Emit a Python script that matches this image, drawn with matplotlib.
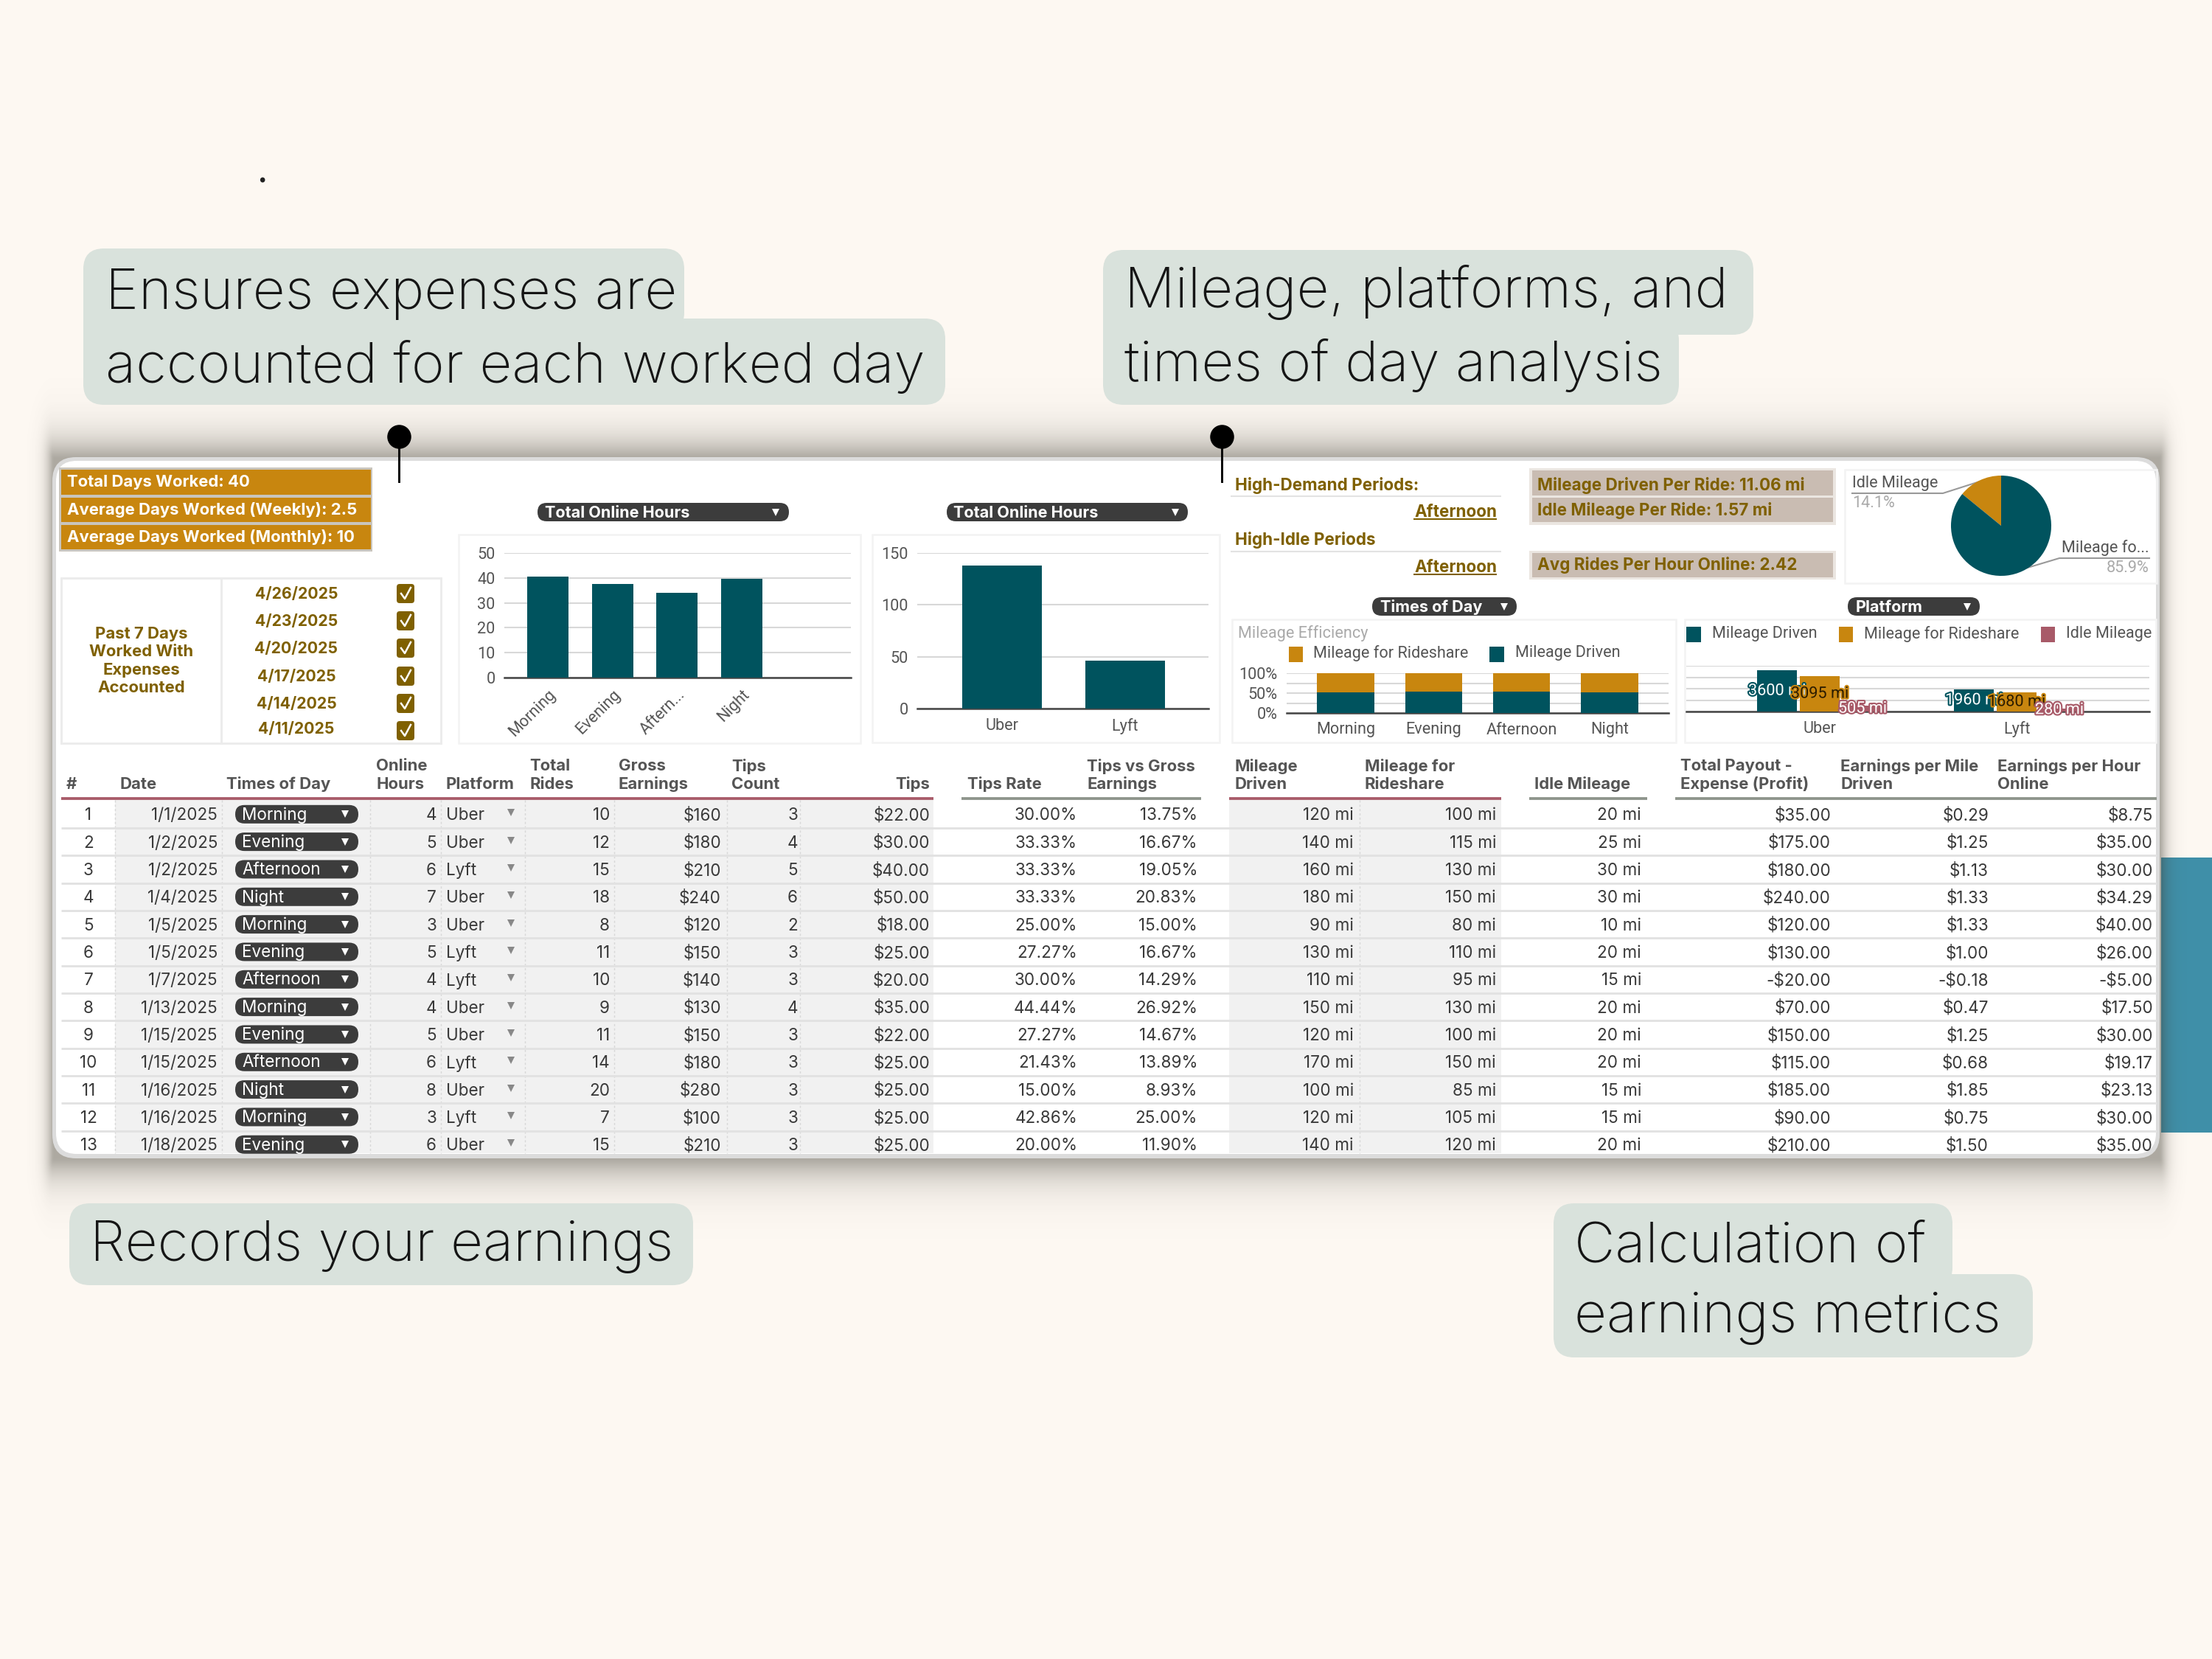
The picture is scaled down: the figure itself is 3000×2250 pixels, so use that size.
import matplotlib
matplotlib.use('Agg')
import matplotlib.pyplot as plt
import matplotlib.patheffects as pe
from matplotlib.patches import FancyBboxPatch, Rectangle
import numpy as np

W, H = 3000, 2250
BG = '#fdf8f2'
CALLOUT = '#d9e2dc'
TEAL = '#00535e'
GOLD = '#c8860f'
MAROON = '#a85a68'
OLIVE = '#7f6000'
PILL = '#3c3c3c'
TAUPE = '#c9bcb2'
FONT = 'Inter'
CHART_FONT = 'Roboto'

# Tableau principal
row_no = ['1', '2', '3', '4', '5', '6', '7', '8', '9', '10', '11', '12', '13']
dates = ['1/1/2025', '1/2/2025', '1/2/2025', '1/4/2025', '1/5/2025', '1/5/2025', '1/7/2025',
         '1/13/2025', '1/15/2025', '1/15/2025', '1/16/2025', '1/16/2025', '1/18/2025']
times_of_day = ['Morning', 'Evening', 'Afternoon', 'Night', 'Morning', 'Evening', 'Afternoon',
                'Morning', 'Evening', 'Afternoon', 'Night', 'Morning', 'Evening']
online_hours = ['4', '5', '6', '7', '3', '5', '4', '4', '5', '6', '8', '3', '6']
platform = ['Uber', 'Uber', 'Lyft', 'Uber', 'Uber', 'Lyft', 'Lyft', 'Uber', 'Uber', 'Lyft', 'Uber', 'Lyft', 'Uber']
total_rides = ['10', '12', '15', '18', '8', '11', '10', '9', '11', '14', '20', '7', '15']
gross = ['$160', '$180', '$210', '$240', '$120', '$150', '$140', '$130', '$150', '$180', '$280', '$100', '$210']
tips_count = ['3', '4', '5', '6', '2', '3', '3', '4', '3', '3', '3', '3', '3']
tips = ['$22.00', '$30.00', '$40.00', '$50.00', '$18.00', '$25.00', '$20.00', '$35.00', '$22.00',
        '$25.00', '$25.00', '$25.00', '$25.00']
tips_rate = ['30.00%', '33.33%', '33.33%', '33.33%', '25.00%', '27.27%', '30.00%', '44.44%', '27.27%',
             '21.43%', '15.00%', '42.86%', '20.00%']
tips_vs_gross = ['13.75%', '16.67%', '19.05%', '20.83%', '15.00%', '16.67%', '14.29%', '26.92%', '14.67%',
                 '13.89%', '8.93%', '25.00%', '11.90%']
mileage_driven = ['120 mi', '140 mi', '160 mi', '180 mi', '90 mi', '130 mi', '110 mi', '150 mi', '120 mi',
                  '170 mi', '100 mi', '120 mi', '140 mi']
mileage_rideshare = ['100 mi', '115 mi', '130 mi', '150 mi', '80 mi', '110 mi', '95 mi', '130 mi', '100 mi',
                     '150 mi', '85 mi', '105 mi', '120 mi']
idle_mileage = ['20 mi', '25 mi', '30 mi', '30 mi', '10 mi', '20 mi', '15 mi', '20 mi', '20 mi',
                '20 mi', '15 mi', '15 mi', '20 mi']
profit = ['$35.00', '$175.00', '$180.00', '$240.00', '$120.00', '$130.00', '-$20.00', '$70.00', '$150.00',
          '$115.00', '$185.00', '$90.00', '$210.00']
per_mile = ['$0.29', '$1.25', '$1.13', '$1.33', '$1.33', '$1.00', '-$0.18', '$0.47', '$1.25', '$0.68',
            '$1.85', '$0.75', '$1.50']
per_hour = ['$8.75', '$35.00', '$30.00', '$34.29', '$40.00', '$26.00', '-$5.00', '$17.50', '$30.00',
            '$19.17', '$23.13', '$30.00', '$35.00']

# Graphiques
tod_labels = ['Morning', 'Evening', 'Aftern...', 'Night']
tod_hours = [40.6, 37.6, 33.9, 39.7]
platform_labels = ['Uber', 'Lyft']
platform_hours = [138, 46]
eff_labels = ['Morning', 'Evening', 'Afternoon', 'Night']
eff_driven = [51, 54, 54, 51]
eff_rideshare = [49, 46, 46, 49]
driven_mi = [3600, 1960]
rideshare_mi = [3095, 1680]
idle_mi = [505, 280]
pie_values = [14.1, 85.9]

# Encadrés
stat_lines = ['Total Days Worked: 40', 'Average Days Worked (Weekly): 2.5', 'Average Days Worked (Monthly): 10']
past_lines = ['Past 7 Days', 'Worked With', 'Expenses', 'Accounted']
past_dates = ['4/26/2025', '4/23/2025', '4/20/2025', '4/17/2025', '4/14/2025', '4/11/2025']
callouts = [
    ['Ensures expenses are', 'accounted for each worked day'],
    ['Mileage, platforms, and', 'times of day analysis'],
    ['Records your earnings'],
    ['Calculation of', 'earnings metrics'],
]

fig = plt.figure(figsize=(10, 7.5), dpi=300, facecolor=BG)
bg = fig.add_axes([0, 0, 1, 1])
bg.set_xlim(0, W)
bg.set_ylim(H, 0)
bg.axis('off')


def txt(x, y, s, size=5.4, color='#3a3a3a', ha='left', weight='normal', family=FONT, zorder=6, **kw):
    return bg.text(x, y + 2, s, fontsize=size, color=color, ha=ha, va='center', fontweight=weight,
                   family=family, zorder=zorder, **kw)


def rbox(x0, y0, x1, y1, r, color, ec='none', lw=0, zorder=3):
    p = FancyBboxPatch((x0, y0), x1 - x0, y1 - y0, boxstyle='round,pad=0,rounding_size=%s' % r,
                       fc=color, ec=ec, lw=lw, zorder=zorder)
    bg.add_patch(p)


def rect(x0, y0, x1, y1, color, ec='none', lw=0, zorder=3):
    bg.add_patch(Rectangle((x0, y0), x1 - x0, y1 - y0, fc=color, ec=ec, lw=lw, zorder=zorder))


def hline(x0, x1, y, color, lw=0.5, zorder=4, **kw):
    bg.plot([x0, x1], [y, y], color=color, lw=lw, zorder=zorder, solid_capstyle='butt', **kw)


def arrow(x, y, color='white', size=2.6, zorder=7):
    bg.plot([x], [y], marker='v', ms=size, color=color, mew=0, zorder=zorder)


def pill(x0, x1, y0, y1, label, arrow_x, size=5.2, text_x=None, weight='bold', color='white'):
    rbox(x0, y0, x1, y1, (y1 - y0) / 2, PILL, zorder=5)
    txt(text_x if text_x else x0 + 9, (y0 + y1) / 2 - 1, label, size=size, color=color, weight=weight)
    arrow(arrow_x, (y0 + y1) / 2)


def chart_axes(x0, x1, y0, y1):
    ax = fig.add_axes([x0 / W, 1 - y1 / H, (x1 - x0) / W, (y1 - y0) / H])
    ax.set_facecolor('none')
    ax.set_zorder(5)
    for side in ['top', 'right', 'left']:
        ax.spines[side].set_visible(False)
    ax.spines['bottom'].set_color('#444444')
    ax.spines['bottom'].set_linewidth(0.6)
    ax.tick_params(length=0, labelsize=5.2, labelcolor='#555555', pad=3)
    ax.grid(axis='y', color='#d8d8d8', lw=0.5)
    ax.set_axisbelow(True)
    return ax


def style_ticks(ax):
    for lab in ax.get_xticklabels() + ax.get_yticklabels():
        lab.set_family(CHART_FONT)


# Fond : bloc bleu à droite et ombre de la carte
rect(2931, 1163, 3000, 1536, '#3f8fa8', zorder=1)
txt(348, 232, '.', size=12, color='#222222', zorder=2)

cx0, cx1, cy0, cy1 = 71, 2929, 620, 1571
yy, xx = np.mgrid[0:H:2, 0:W:2]
dx = np.maximum(np.maximum(cx0 - xx, xx - cx1), 0) / 10.0
dy = np.maximum(np.maximum(cy0 - yy, yy - cy1), 0) / 30.0
dist = np.sqrt(dx ** 2 + dy ** 2)
alpha = 0.42 * np.exp(-dist ** 1.2)
shadow = np.zeros(dist.shape + (4,))
shadow[..., :3] = [0.25, 0.24, 0.2]
shadow[..., 3] = alpha
bg.imshow(shadow, extent=(0, W, H, 0), aspect='auto', zorder=2, interpolation='bilinear')
bg.set_xlim(0, W)
bg.set_ylim(H, 0)

rbox(cx0, cy0, cx1, cy1, 32, '#dcdcdc', zorder=2.5)
rbox(cx0 + 5, cy0 + 5, cx1 - 5, cy1 - 6, 28, 'white', zorder=2.6)

# Bulles de légende
callout_boxes = [
    [(113, 337, 928, 452), (113, 432, 1282, 549)],
    [(1496, 339, 2378, 454), (1496, 434, 2277, 549)],
    [(94, 1632, 940, 1743)],
    [(2107, 1632, 2648, 1747), (2107, 1728, 2757, 1841)],
]
callout_text = [(143, [397, 495]), (1525, [395, 493]), (122, [1689]), (2135, [1689, 1786])]
for boxes, lines, (tx, tys) in zip(callout_boxes, callouts, callout_text):
    for b in boxes:
        rbox(b[0], b[1], b[2], b[3], 28, CALLOUT, zorder=2.7)
    if len(boxes) == 2:
        # raccord entre les deux lignes de la bulle
        right = min(boxes[0][2], boxes[1][2]) - 28
        rect(boxes[0][0], boxes[0][3] - 30, right, boxes[1][1] + 30, CALLOUT, zorder=2.7)
    for line, ty in zip(lines, tys):
        txt(tx, ty, line, size=18.35, color='#151515', zorder=3, weight='light')

# Épingles
for px in [541, 1657]:
    bg.plot([px, px], [592, 653], color='black', lw=0.7, zorder=8)
    bg.plot([px], [592], marker='o', ms=7.8, color='black', mew=0, zorder=8)

# Encadrés orange
rect(80, 634, 505, 748, '#c9c5bd', zorder=3)
for (y0, y1), line in zip([(637, 671), (675, 708), (712, 745)], stat_lines):
    rect(83, y0, 503, y1, GOLD, zorder=3.5)
    txt(91, (y0 + y1) / 2 - 2, line, size=5.3, color='white', weight='bold')

# Tableau des 7 derniers jours
rect(83, 784, 598, 1008, 'none', ec='#ececec', lw=0.7)
bg.plot([300, 300], [784, 1008], color='#ececec', lw=0.7, zorder=4)
for line, y in zip(past_lines, [860, 884, 909, 933]):
    txt(192, y - 2, line, size=5.3, color=OLIVE, ha='center', weight='bold')
for d, y, cy in zip(past_dates, [806, 843, 880, 918, 955, 989], [805, 842, 879, 917, 954, 991]):
    txt(402, y - 2, d, size=5.1, color=OLIVE, ha='center', weight='bold')
    rbox(538, cy - 13, 562, cy + 13, 4, OLIVE, zorder=5)
    bg.plot([544, 549, 557], [cy, cy + 7, cy - 8], color='white', lw=0.6, zorder=6)

# Menus au-dessus des graphiques
pill(729, 1070, 682, 707, 'Total Online Hours', 1052, text_x=739)
pill(1284, 1611, 682, 707, 'Total Online Hours', 1594, text_x=1293)
pill(1861, 2057, 810, 835, 'Times of Day', 2040, text_x=1872)
pill(2506, 2685, 810, 835, 'Platform', 2668, text_x=2517)

# Cadres des graphiques
for x0, y0, x1, y1 in [(622, 725, 1167, 1008), (1183, 725, 1654, 1007), (1671, 840, 2273, 1007),
                       (2285, 840, 2924, 1007), (2502, 637, 2925, 791)]:
    rect(x0, y0, x1, y1, 'none', ec='#f3f3f3', lw=0.6)

# Heures par moment de la journée
ax = chart_axes(684, 1154, 750, 919)
x = np.arange(len(tod_labels))
ax.bar(x, tod_hours, width=0.64, color=TEAL, zorder=3)
ax.set_xlim(-0.673, 4.686)
ax.set_ylim(0, 50)
ax.set_yticks([0, 10, 20, 30, 40, 50])
ax.set_xticks(x)
ax.set_xticklabels(tod_labels, rotation=45, ha='right', rotation_mode='anchor')
style_ticks(ax)

# Heures par plateforme
ax = chart_axes(1244, 1639, 750, 961)
x = np.arange(len(platform_labels))
ax.bar(x, platform_hours, width=0.647, color=TEAL, zorder=3)
ax.set_xlim(-0.689, 1.677)
ax.set_ylim(0, 150)
ax.set_yticks([0, 50, 100, 150])
ax.set_xticks(x)
ax.set_xticklabels(platform_labels)
style_ticks(ax)

# Périodes
for y_title, y_line, y_val, y_val_line, title in [(657, 673, 694, 704, 'High-Demand Periods:'),
                                                  (731, 748, 769, 779, 'High-Idle Periods')]:
    txt(1675, y_title - 1, title, size=5.4, color=OLIVE, weight='bold')
    hline(1669, 2036, y_line, '#e3e3e3', lw=0.5)
    txt(2030, y_val - 1, 'Afternoon', size=5.4, color=OLIVE, ha='right', weight='bold')
    hline(1917, 2030, y_val_line, OLIVE, lw=0.5)

# Encadrés taupe
rect(2074, 635, 2490, 712, '#ebe6e1')
rect(2078, 638, 2486, 672, TAUPE, zorder=3.2)
rect(2078, 675, 2486, 708, TAUPE, zorder=3.2)
rect(2074, 747, 2490, 786, '#ebe6e1')
rect(2078, 750, 2486, 783, TAUPE, zorder=3.2)
txt(2085, 656, 'Mileage Driven Per Ride: 11.06 mi', size=5.4, color=OLIVE, weight='bold')
txt(2085, 690, 'Idle Mileage Per Ride: 1.57 mi', size=5.4, color=OLIVE, weight='bold')
txt(2085, 764, 'Avg Rides Per Hour Online: 2.42', size=5.4, color=OLIVE, weight='bold')

# Camembert
ax = fig.add_axes([(2714 - 68) / W, 1 - (713 + 68) / H, 136 / W, 136 / H])
ax.pie(pie_values, colors=[GOLD, TEAL], startangle=90, counterclock=True, radius=1)
ax.set_xlim(-1, 1)
ax.set_ylim(-1, 1)
ax.set_zorder(5)
txt(2512, 653, 'Idle Mileage', size=5.2, color='#555555', family=CHART_FONT)
txt(2512, 680, '14.1%', size=5.2, color='#aaaaaa', family=CHART_FONT)
bg.plot([2512, 2635, 2685], [669, 669, 653], color='#999999', lw=0.5, zorder=6)
txt(2915, 741, 'Mileage fo...', size=5.2, color='#555555', ha='right', family=CHART_FONT)
txt(2915, 769, '85.9%', size=5.2, color='#aaaaaa', ha='right', family=CHART_FONT)
bg.plot([2915, 2793, 2743], [757, 757, 772], color='#999999', lw=0.5, zorder=6)

# Efficacité kilométrique
txt(1679, 857, 'Mileage Efficiency', size=5.2, color='#aaaaaa', family=CHART_FONT)
rect(1748, 877, 1767, 898, GOLD, zorder=5)
txt(1781, 884, 'Mileage for Rideshare', size=5.2, color='#555555', family=CHART_FONT)
rect(2020, 877, 2040, 898, TEAL, zorder=5)
txt(2055, 884, 'Mileage Driven', size=5.2, color='#555555', family=CHART_FONT)

ax = chart_axes(1745, 2263, 913, 967)
x = np.arange(len(eff_labels))
ax.bar(x, eff_driven, width=0.65, color=TEAL, zorder=3)
ax.bar(x, eff_rideshare, width=0.65, bottom=eff_driven, color=GOLD, zorder=3)
ax.set_xlim(-0.67, 3.67)
ax.set_ylim(0, 100)
ax.set_yticks([0, 50, 100])
ax.set_yticklabels(['0%', '50%', '100%'])
ax.set_yticks([25, 75], minor=True)
ax.grid(axis='y', which='minor', color='#d8d8d8', lw=0.5)
ax.tick_params(which='minor', length=0)
ax.set_xticks(x)
ax.set_xticklabels(eff_labels)
style_ticks(ax)

# Kilométrage par plateforme
for x0, x1, c, label in [(2287, 2307, TEAL, 'Mileage Driven'), (2494, 2513, GOLD, 'Mileage for Rideshare'),
                         (2768, 2787, MAROON, 'Idle Mileage')]:
    rect(x0, 850, x1, 871, c, zorder=5)
    txt(x1 + 15, 858, label, size=5.2, color='#555555', family=CHART_FONT)

ax = chart_axes(2287, 2915, 903, 965)
x = np.arange(len(platform_labels))
bar_w = 0.217
series = [(driven_mi, TEAL, 'white', -bar_w), (rideshare_mi, GOLD, '#2b1c00', 0), (idle_mi, MAROON, 'white', bar_w)]
for values, c, tc, off in series:
    ax.bar(x + off, values, width=0.205, color=c, zorder=3)
for values, c, tc, off in series:
    for xi, v in zip(x, values):
        t = ax.text(xi + off, v / 2, '%d mi' % v, ha='center', va='center', fontsize=5.2, color=tc,
                    family=CHART_FONT, zorder=5, clip_on=False)
        t.set_path_effects([pe.withStroke(linewidth=1.0, foreground=c)])
ax.set_xlim(-0.678, 1.674)
ax.set_ylim(0, 4000)
ax.set_yticks([0, 1000, 2000, 3000, 4000])
ax.set_yticklabels([])
ax.set_xticks(x)
ax.set_xticklabels(platform_labels)
style_ticks(ax)

# Tableau : zones de fond, lignes, en-têtes
rows_y = [1104.3 + 37.33 * i for i in range(len(row_no))]
table_top, table_bottom = 1085, 1564
rect(156, table_top, 1266, table_bottom, '#f1f1f1', zorder=3)
rect(1667, table_top, 2036, table_bottom, '#f1f1f1', zorder=3)
for i in range(len(row_no) - 1):
    hline(83, 2925, rows_y[i] + 18.7, '#e2e2e2', lw=0.7)
for sx in [156, 301, 502, 598, 712, 833, 986, 1085, 1844]:
    bg.plot([sx, sx], [table_top, table_bottom], color='#d8d8d8', lw=0.35, ls=(0, (2, 2)), zorder=3.5)
hline(83, 1266, 1083, MAROON, lw=0.9)
hline(1304, 1629, 1083, '#8d948b', lw=0.9)
hline(1667, 2036, 1083, MAROON, lw=0.9)
hline(2074, 2234, 1083, '#8d948b', lw=0.9)
hline(2272, 2925, 1083, '#8d948b', lw=0.9)

headers = [
    (97, '', '#', 'center'), (163, '', 'Date', 'left'), (307, '', 'Times of Day', 'left'),
    (510, 'Online', 'Hours', 'left'), (605, '', 'Platform', 'left'), (718, 'Total', 'Rides', 'left'),
    (839, 'Gross', 'Earnings', 'left'), (992, 'Tips', 'Count', 'left'), (1261, '', 'Tips', 'right'),
    (1312, '', 'Tips Rate', 'left'), (1474, 'Tips vs Gross', 'Earnings', 'left'),
    (1675, 'Mileage', 'Driven', 'left'), (1851, 'Mileage for', 'Rideshare', 'left'),
    (2081, '', 'Idle Mileage', 'left'), (2279, 'Total Payout -', 'Expense (Profit)', 'left'),
    (2496, 'Earnings per Mile', 'Driven', 'left'), (2709, 'Earnings per Hour', 'Online', 'left'),
]
for hx, l1, l2, ha in headers:
    if l1:
        txt(hx, 1037, l1, size=5.3, color='#555555', weight='bold', ha=ha)
    txt(hx, 1062, l2, size=5.3, color='#555555', weight='bold', ha=ha)

right_cols = [
    (295, dates), (592, online_hours), (827, total_rides), (978, gross), (1082, tips_count), (1261, tips),
    (1461, tips_rate), (1624, tips_vs_gross), (1836, mileage_driven), (2029, mileage_rideshare),
    (2226, idle_mileage), (2483, profit), (2697, per_mile), (2920, per_hour),
]
for i, y in enumerate(rows_y):
    txt(120, y, row_no[i], ha='center')
    for rx, col in right_cols:
        txt(rx, y, col[i], ha='right')
    txt(605, y, platform[i])
    arrow(693, y - 2, color='#888888', size=2.4)
    pill(319, 486, y - 12.5, y + 12.5, times_of_day[i], 468, size=5.4, text_x=328, weight='normal')

fig.savefig('out.png', dpi=300, facecolor=BG)
